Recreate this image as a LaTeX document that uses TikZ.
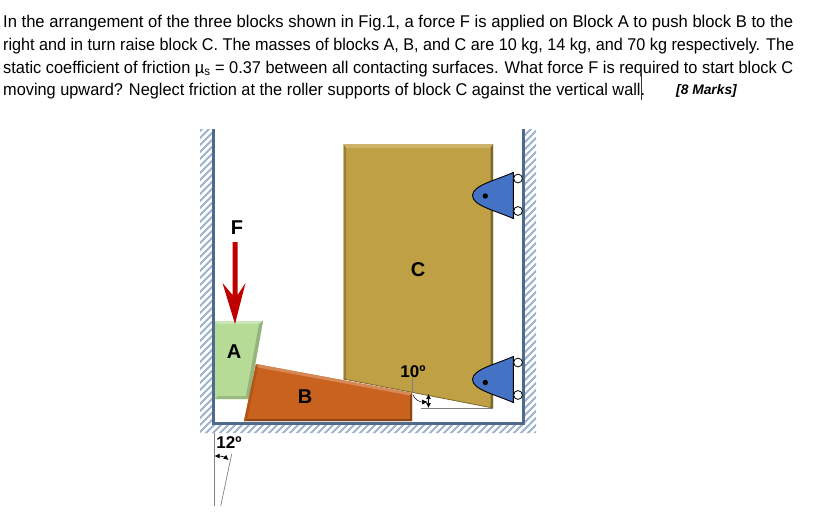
\documentclass[tikz,border=0pt]{standalone}
\usepackage{fontspec}
\setmainfont{Liberation Sans}
\usepackage{xcolor}
\usepackage{graphicx}
\usetikzlibrary{arrows.meta}
\definecolor{wallcol}{HTML}{4F6A8C}
\definecolor{hatchcol}{HTML}{9DB2CC}
\definecolor{blockAcol}{HTML}{B5DB97}
\definecolor{blockBcol}{HTML}{C8621E}
\definecolor{blockCcol}{HTML}{BFA044}
\definecolor{rollercol}{HTML}{4472C4}
\definecolor{forcecol}{HTML}{C00000}
\tikzset{
    questionline/.style={anchor=base west, inner sep=0pt, font=\fontsize{17}{19}\selectfont},
    blocklabel/.style={inner sep=0pt, font=\fontsize{20}{22}\selectfont\bfseries},
    anglelabel/.style={inner sep=0pt, font=\fontsize{17}{19}\selectfont\bfseries},
    dimline/.style={draw=gray, line width=0.7pt},
    dimarrow/.style={line width=0.7pt, {Latex[length=5pt,width=5pt]}-{Latex[length=5pt,width=5pt]}},
    roller/.style={draw=black, fill=white, line width=0.8pt},
}
\newcommand{\fitline}[2]{\resizebox{#1pt}{\height}{#2}}
\newcommand{\rollersupport}[2]{%
    \draw[fill=rollercol, line width=0.9pt] (513.3,#1-23) .. controls (495,#1-15) and (472.5,#1-10) .. (472.5,#1)
        .. controls (472.5,#1+10) and (495,#1+15) .. (513.3,#1+23) -- cycle;
    \fill (485.3,#2) circle (2.7);
    \draw[roller] (518,#1-17) circle (4.4);
    \draw[roller] (518,#1+15.5) circle (4.4);
}
\begin{document}
\begin{tikzpicture}[x=1pt,y=-1pt]
    \useasboundingbox (0,0) rectangle (818,519);
    
    % Question text
    \node[questionline] (lineone) at (3,28) {\fitline{790}{In the arrangement of the three blocks shown in Fig.1, a force F is applied on Block A to push block B to the}};
    \node[questionline] (linetwo) at (3,51) {\fitline{791}{right and in turn raise block C. The masses of blocks A, B, and C are 10 kg, 14 kg, and 70 kg respectively. The}};
    \node[questionline] (linethree) at (3,73) {\fitline{790}{static coefficient of friction µ\textsubscript{s} = 0.37 between all contacting surfaces. What force F is required to start block C}};
    \node[questionline] (linefour) at (3,95) {\fitline{642}{moving upward? Neglect friction at the roller supports of block C against the vertical wall.}};
    \node[anchor=base west, inner sep=0pt, font=\fontsize{13.8}{15}\selectfont\bfseries\itshape] (marks) at (676,94) {[8 Marks]};
    \draw[line width=0.8pt, black!80] (641,72) -- (641,100);
    
    % Hatching
    \begin{scope}
        \clip (200,129) rectangle (212,433) (212,423) rectangle (536,433) (524,129) rectangle (536,433);
        \foreach \k in {0,7,...,800}
            \draw[hatchcol, line width=2pt] (190,120+\k) -- (550,120+\k-360);
    \end{scope}
    
    % Walls
    \draw[wallcol, line width=3pt] (213.5,129) -- (213.5,423) -- (523,423) -- (523,129);
    
    % Block C
    \fill[blockCcol] (343.5,144) -- (493,144) -- (493,408) -- (343.5,379) -- cycle;
    \fill[blockCcol!80!white] (343.5,144) -- (493,144) -- (490.5,148) -- (346,148) -- cycle;
    \fill[blockCcol!80!black] (343.5,144) -- (346,148) -- (346,379.5) -- (343.5,379) -- cycle;
    \fill[blockCcol!65!black] (493,144) -- (490.5,148) -- (490.5,407.5) -- (493,408) -- cycle;
    \draw[blockCcol!65!black, line width=0.8pt] (343.5,379) -- (493,408);
    \node[blocklabel] (labelC) at (418,270) {C};
    
    % Block A
    \fill[blockAcol] (215,321) -- (263,321) -- (249,399) -- (215,399) -- cycle;
    \fill[blockAcol!70!white] (215,321) -- (263,321) -- (259,324) -- (218,324) -- cycle;
    \fill[blockAcol!82!black] (263,321) -- (259,324) -- (246,396) -- (249,399) -- cycle;
    \fill[blockAcol!85!black] (215,399) -- (218,396) -- (246,396) -- (249,399) -- cycle;
    \node[blocklabel] (labelA) at (234,352) {A};
    
    % Block B
    \fill[blockBcol] (256,364) -- (412,393) -- (412,421) -- (244,421) -- cycle;
    \fill[blockBcol!75!white] (256,364) -- (412,393) -- (410,395.5) -- (258,367.5) -- cycle;
    \fill[blockBcol!70!black] (412,393) -- (410,395.5) -- (410,419) -- (412,421) -- cycle;
    \fill[blockBcol!70!black] (244,421) -- (247,419) -- (410,419) -- (412,421) -- cycle;
    \fill[blockBcol!88!black] (256,364) -- (258,367.5) -- (247,419) -- (244,421) -- cycle;
    \node[blocklabel] (labelB) at (305,397) {B};
    
    % Roller supports
    \rollersupport{195.5}{196}
    \rollersupport{379.5}{382.5}
    
    % Force F
    \fill[forcecol] (232.5,242) -- (237.5,242) -- (237.5,295) -- (245.5,283) -- (235,324) -- (222.5,283) -- (232.5,295) -- cycle;
    \node[blocklabel] (labelF) at (237,228) {F};
    
    % Angle of block C
    \draw[dimline] (421,408) -- (493,408);
    \draw[dimline] (412,378) -- (412,393);
    \draw[line width=0.5pt, -{Latex[length=6pt,width=5pt]}] (413,395) .. controls (415,400) and (420,402) .. (428,402);
    \draw[dimarrow] (428.5,394) -- (428.5,408);
    \node[anglelabel] (labelten) at (413,372) {10º};
    
    % Angle of block A
    \draw[dimline] (214.5,433) -- (214.5,506);
    \draw[dimline] (231.7,454) -- (220.7,506);
    \draw[dimarrow] (214.5,456) .. controls (220,456) and (225,457) .. (228.5,460);
    \node[anglelabel] (labeltwelve) at (229,443) {12º};
\end{tikzpicture}
\end{document}
